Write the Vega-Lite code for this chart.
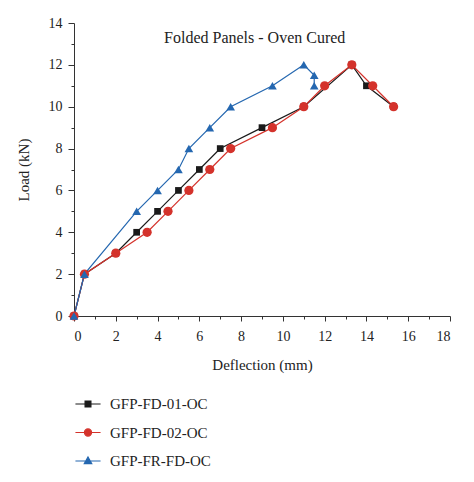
{
  "$schema": "https://vega.github.io/schema/vega-lite/v6.json",
  "autosize": "none",
  "width": 376,
  "height": 293,
  "padding": {"left": 74, "top": 23, "right": 24, "bottom": 166},
  "background": "white",
  "config": {
    "view": {"stroke": null},
    "axis": {
      "grid": false,
      "domainColor": "#333333",
      "domainWidth": 1,
      "tickColor": "#333333",
      "labelFont": "Liberation Serif",
      "labelFontSize": 14,
      "labelColor": "#222222",
      "titleFont": "Liberation Serif",
      "titleFontSize": 15,
      "titleFontWeight": "normal",
      "titleColor": "#222222"
    }
  },
  "encoding": {
    "x": {
      "field": "deflection",
      "type": "quantitative",
      "title": "Deflection (mm)",
      "scale": {"domain": [0, 18], "nice": false, "zero": false},
      "axis": {
        "values": [0,1,2,3,4,5,6,7,8,9,10,11,12,13,14,15,16,17,18],
        "labelExpr": "datum.value % 2 == 0 ? datum.label : ''",
        "tickSize": {"expr": "datum.value % 2 == 0 ? 5 : 3"},
        "labelPadding": 8,
        "titlePadding": 14
      }
    },
    "y": {
      "field": "load",
      "type": "quantitative",
      "title": "Load (kN)",
      "scale": {"domain": [0, 14], "nice": false, "zero": false},
      "axis": {
        "values": [0,1,2,3,4,5,6,7,8,9,10,11,12,13,14],
        "labelExpr": "datum.value % 2 == 0 ? datum.label : ''",
        "tickSize": {"expr": "datum.value % 2 == 0 ? 6 : 3"},
        "labelPadding": 6,
        "titlePadding": 17
      }
    },
    "color": {
      "field": "series",
      "type": "nominal",
      "scale": {
        "domain": ["GFP-FD-01-OC", "GFP-FD-02-OC", "GFP-FR-FD-OC"],
        "range": ["#1a1a1a", "#d4322b", "#2467b0"]
      },
      "legend": {
        "title": null,
        "orient": "none",
        "legendX": 0,
        "legendY": 367,
        "direction": "vertical",
        "padding": 0,
        "rowPadding": 6.5,
        "symbolSize": 700,
        "symbolStrokeWidth": 1.2,
        "labelFont": "Liberation Serif",
        "labelFontSize": 15,
        "labelColor": "#222222",
        "labelOffset": 8,
        "encode": {
          "symbols": {
            "update": {
              "shape": {
                "signal": "datum.value == 'GFP-FD-01-OC' ? 'M-0.95,0H0.95M-0.22,-0.22H0.22V0.22H-0.22Z' : (datum.value == 'GFP-FD-02-OC' ? 'M-0.95,0H0.95M-0.27,0A0.27,0.27,0,1,0,0.27,0A0.27,0.27,0,1,0,-0.27,0Z' : 'M-0.95,0H0.95M0,-0.3L0.28,0.2H-0.28Z')"
              },
              "stroke": {"signal": "scale('color', datum.value)"},
              "fill": {"signal": "scale('color', datum.value)"},
              "strokeWidth": {"value": 1.2}
            }
          }
        }
      }
    }
  },
  "layer": [
    {
      "data": {"values": [{"label": "Folded Panels - Oven Cured", "deflection": 8.65, "load": 13.3}]},
      "mark": {
        "type": "text",
        "font": "Liberation Serif",
        "fontSize": 16,
        "color": "#222222",
        "align": "center",
        "baseline": "middle"
      },
      "encoding": {
        "text": {"field": "label", "type": "nominal"},
        "color": null
      }
    },
    {
      "data": {"name": "curves"},
      "mark": {"type": "line", "strokeWidth": 1.2, "clip": false},
      "encoding": {
        "order": {"field": "step", "type": "quantitative"}
      }
    },
    {
      "data": {"name": "curves"},
      "transform": [{"filter": "datum.series == 'GFP-FD-01-OC'"}],
      "mark": {"type": "point", "shape": "square", "size": 45, "filled": true, "opacity": 1, "strokeWidth": 0, "clip": false}
    },
    {
      "data": {"name": "curves"},
      "transform": [{"filter": "datum.series == 'GFP-FD-02-OC'"}],
      "mark": {"type": "point", "shape": "circle", "size": 85, "filled": true, "opacity": 1, "strokeWidth": 0, "clip": false}
    },
    {
      "data": {"name": "curves"},
      "transform": [{"filter": "datum.series == 'GFP-FR-FD-OC'"}],
      "mark": {"type": "point", "shape": "triangle-up", "size": 75, "filled": true, "opacity": 1, "strokeWidth": 0, "clip": false}
    }
  ],
  "datasets": {
    "curves": [
      {"series": "GFP-FD-01-OC", "step": 0, "deflection": 0, "load": 0},
      {"series": "GFP-FD-01-OC", "step": 1, "deflection": 0.5, "load": 2},
      {"series": "GFP-FD-01-OC", "step": 2, "deflection": 2, "load": 3},
      {"series": "GFP-FD-01-OC", "step": 3, "deflection": 3, "load": 4},
      {"series": "GFP-FD-01-OC", "step": 4, "deflection": 4, "load": 5},
      {"series": "GFP-FD-01-OC", "step": 5, "deflection": 5, "load": 6},
      {"series": "GFP-FD-01-OC", "step": 6, "deflection": 6, "load": 7},
      {"series": "GFP-FD-01-OC", "step": 7, "deflection": 7, "load": 8},
      {"series": "GFP-FD-01-OC", "step": 8, "deflection": 9, "load": 9},
      {"series": "GFP-FD-01-OC", "step": 9, "deflection": 11, "load": 10},
      {"series": "GFP-FD-01-OC", "step": 10, "deflection": 13.3, "load": 12},
      {"series": "GFP-FD-01-OC", "step": 11, "deflection": 14, "load": 11},
      {"series": "GFP-FD-01-OC", "step": 12, "deflection": 15.3, "load": 10},
      {"series": "GFP-FD-02-OC", "step": 0, "deflection": 0, "load": 0},
      {"series": "GFP-FD-02-OC", "step": 1, "deflection": 0.5, "load": 2},
      {"series": "GFP-FD-02-OC", "step": 2, "deflection": 2, "load": 3},
      {"series": "GFP-FD-02-OC", "step": 3, "deflection": 3.5, "load": 4},
      {"series": "GFP-FD-02-OC", "step": 4, "deflection": 4.5, "load": 5},
      {"series": "GFP-FD-02-OC", "step": 5, "deflection": 5.5, "load": 6},
      {"series": "GFP-FD-02-OC", "step": 6, "deflection": 6.5, "load": 7},
      {"series": "GFP-FD-02-OC", "step": 7, "deflection": 7.5, "load": 8},
      {"series": "GFP-FD-02-OC", "step": 8, "deflection": 9.5, "load": 9},
      {"series": "GFP-FD-02-OC", "step": 9, "deflection": 11, "load": 10},
      {"series": "GFP-FD-02-OC", "step": 10, "deflection": 12, "load": 11},
      {"series": "GFP-FD-02-OC", "step": 11, "deflection": 13.3, "load": 12},
      {"series": "GFP-FD-02-OC", "step": 12, "deflection": 14.3, "load": 11},
      {"series": "GFP-FD-02-OC", "step": 13, "deflection": 15.3, "load": 10},
      {"series": "GFP-FR-FD-OC", "step": 0, "deflection": 0, "load": 0},
      {"series": "GFP-FR-FD-OC", "step": 1, "deflection": 0.5, "load": 2},
      {"series": "GFP-FR-FD-OC", "step": 2, "deflection": 3, "load": 5},
      {"series": "GFP-FR-FD-OC", "step": 3, "deflection": 4, "load": 6},
      {"series": "GFP-FR-FD-OC", "step": 4, "deflection": 5, "load": 7},
      {"series": "GFP-FR-FD-OC", "step": 5, "deflection": 5.5, "load": 8},
      {"series": "GFP-FR-FD-OC", "step": 6, "deflection": 6.5, "load": 9},
      {"series": "GFP-FR-FD-OC", "step": 7, "deflection": 7.5, "load": 10},
      {"series": "GFP-FR-FD-OC", "step": 8, "deflection": 9.5, "load": 11},
      {"series": "GFP-FR-FD-OC", "step": 9, "deflection": 11, "load": 12},
      {"series": "GFP-FR-FD-OC", "step": 10, "deflection": 11.5, "load": 11.5},
      {"series": "GFP-FR-FD-OC", "step": 11, "deflection": 11.5, "load": 11}
    ]
  }
}
